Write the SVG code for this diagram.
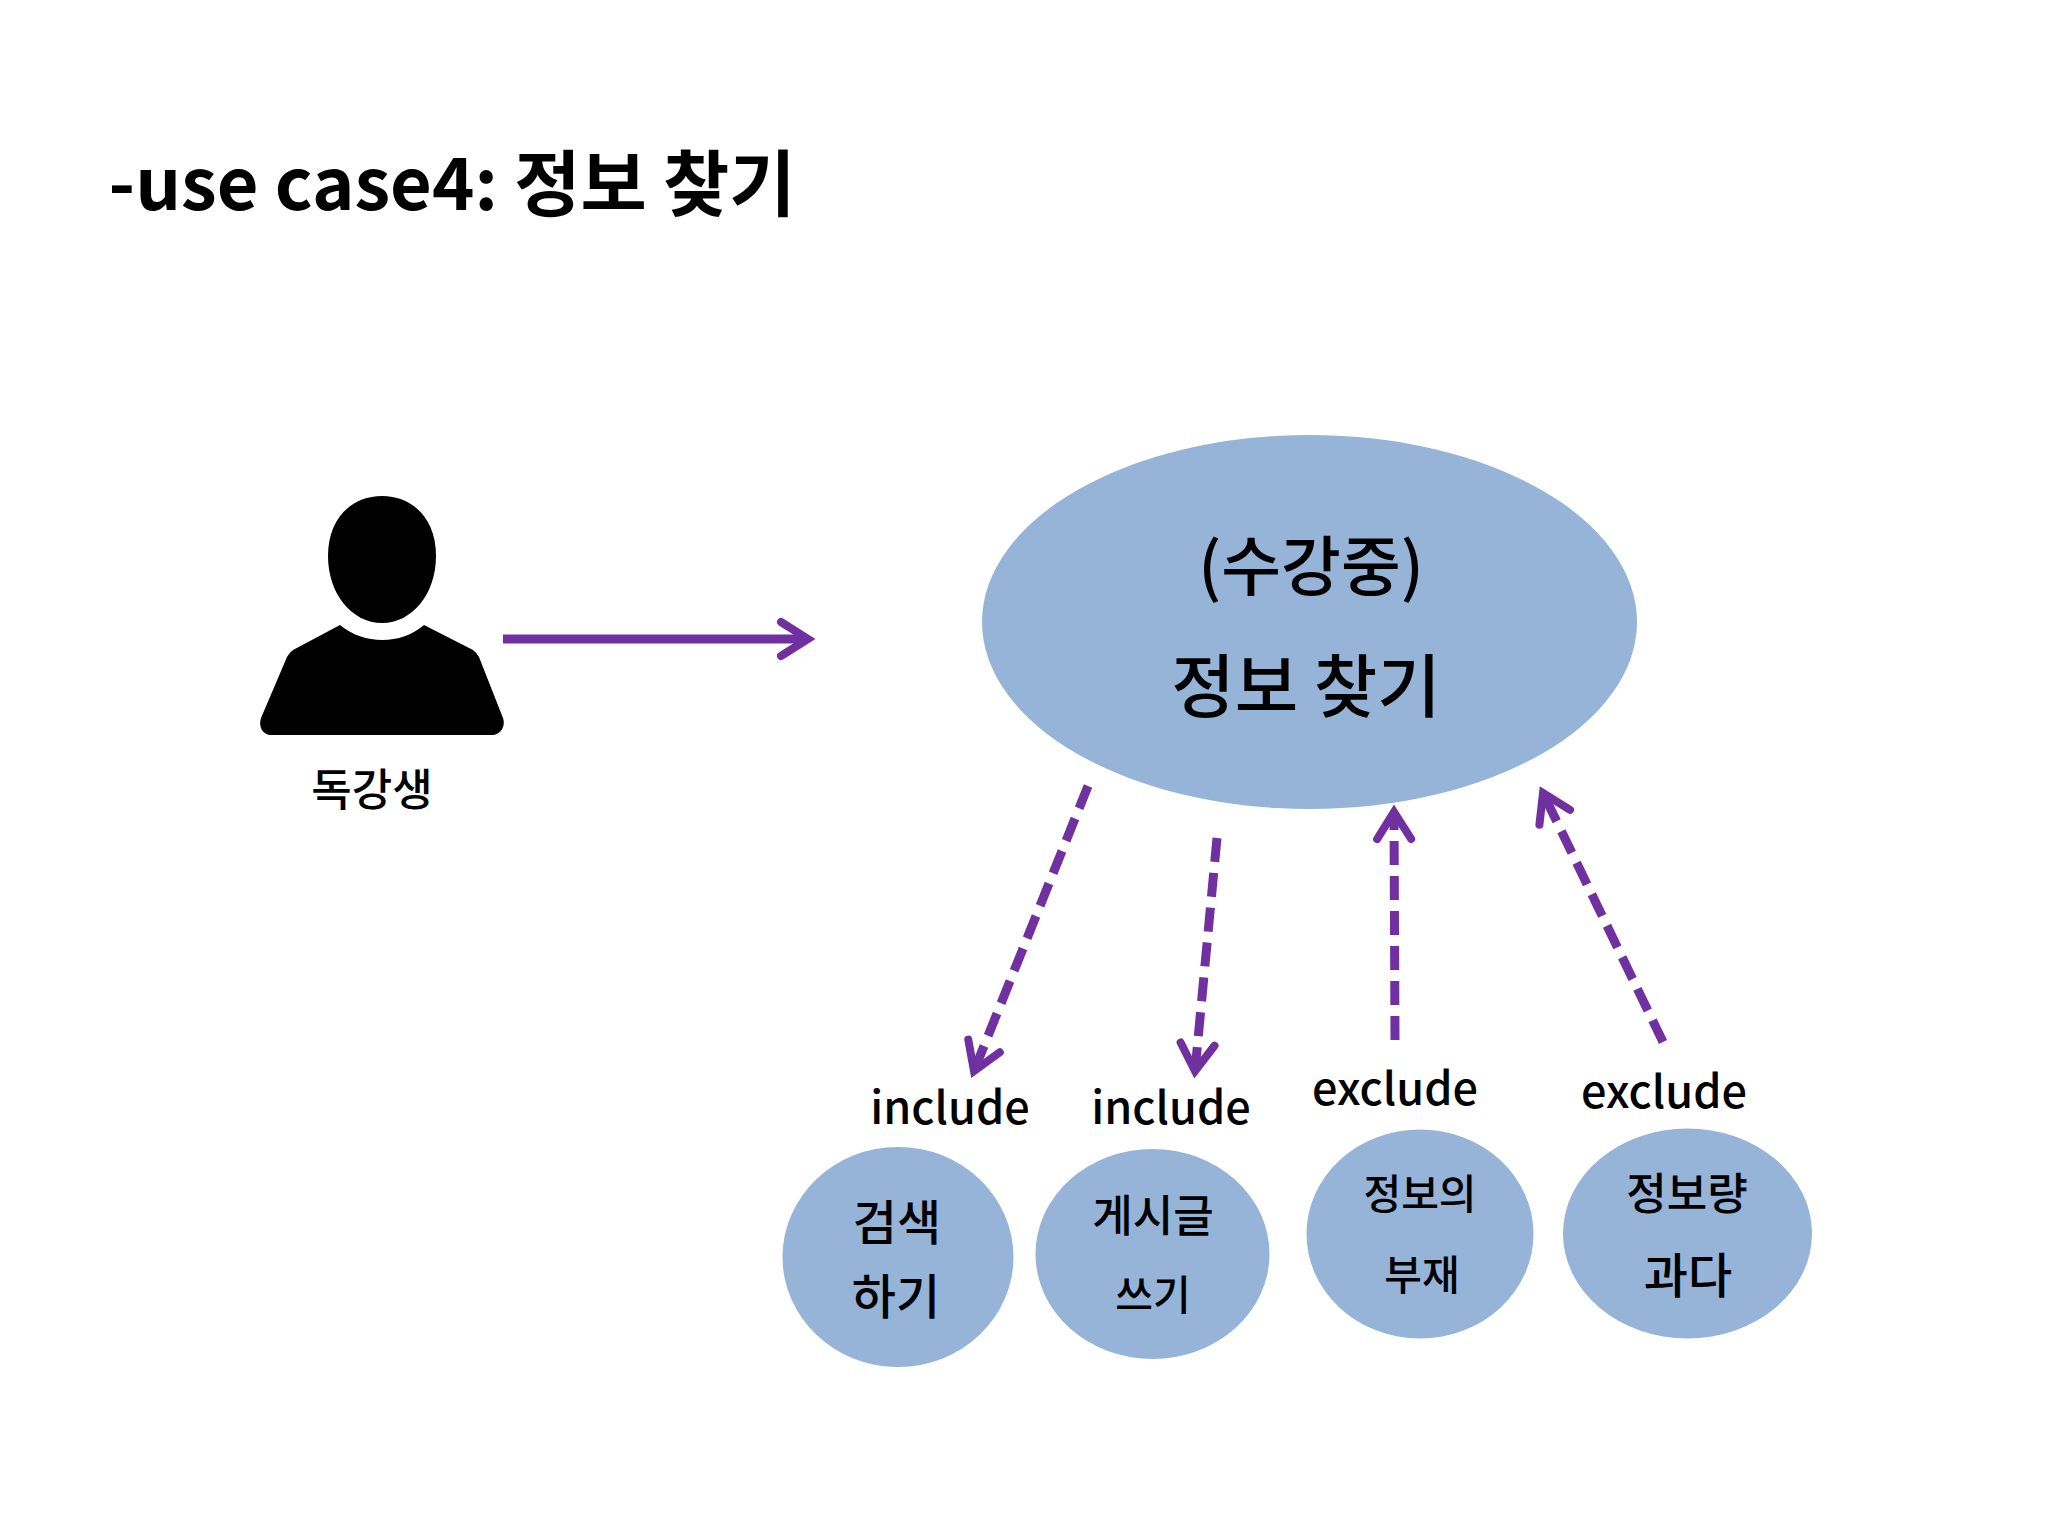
<svg xmlns="http://www.w3.org/2000/svg" width="2048" height="1536" viewBox="0 0 2048 1536">
<style>
text{font-family:"Noto Sans CJK KR","Noto Sans",sans-serif;fill:#000;text-anchor:middle;dominant-baseline:central;font-weight:500}
.uc{fill:#96B3D8}
.s{font-size:41px}
.n{font-size:44px}
.w{font-size:48px}
.l{font-size:45px}
.m{font-size:65px}
.c{fill:none;stroke:#7030A0;stroke-width:9}
.d{stroke-dasharray:24 11}
.h{fill:none;stroke:#7030A0;stroke-width:8;stroke-linecap:round;stroke-linejoin:miter}
</style>
<defs>
<marker id="open" viewBox="-32 -24 42 48" refX="0" refY="0" markerWidth="42" markerHeight="48" orient="auto" markerUnits="userSpaceOnUse" overflow="visible">
<path class="h" d="M-27 -17L0 0L-27 17"/>
</marker>
</defs>
<rect width="2048" height="1536" fill="#fff"/>
<text x="452" y="178" font-size="72" style="font-weight:700">-use case4: 정보 찾기</text>
<g id="connectors">
<line class="c" x1="503" y1="639" x2="808" y2="639" marker-end="url(#open)"/>
<line class="c d" x1="1088" y1="786" x2="974" y2="1071" marker-end="url(#open)"/>
<line class="c d" x1="1217" y1="838" x2="1195" y2="1071" marker-end="url(#open)"/>
<line class="c d" x1="1395" y1="1040" x2="1394" y2="812" marker-end="url(#open)"/>
<line class="c d" x1="1663" y1="1042" x2="1543" y2="793" marker-end="url(#open)"/>
</g>
<g id="actor">
<path d="M382 496C352 496 328 518 328 556C328 594 352 623 382 623C412 623 436 594 436 556C436 518 412 496 382 496Z"/>
<path d="M340 625C364 645 401 645 424 625L473 650Q477 653 479 657L503 718C506 727 500 735 492 735H271C263 735 258 727 261 718L287 657Q289 653 293 650Z"/>
<text class="n" x="372" y="787">독강생</text>
</g>
<g id="uc-main">
<ellipse class="uc" cx="1309.500" cy="622" rx="327.500" ry="187"/>
<text class="m" x="1311" y="562">(수강중)</text>
<text x="1306" y="682" font-size="69">정보 찾기</text>
</g>
<g id="uc-search">
<ellipse class="uc" cx="898" cy="1257" rx="115.500" ry="110"/>
<text class="w" x="897" y="1219">검색</text>
<text class="w" x="896" y="1293">하기</text>
</g>
<g id="uc-post">
<ellipse class="uc" cx="1152.500" cy="1254" rx="117" ry="105"/>
<text class="n" x="1153" y="1213">게시글</text>
<text class="s" x="1153" y="1292">쓰기</text>
</g>
<g id="uc-absent">
<ellipse class="uc" cx="1420" cy="1234" rx="113.500" ry="104.500"/>
<text class="s" x="1420" y="1191">정보의</text>
<text class="s" x="1422" y="1272">부재</text>
</g>
<g id="uc-excess">
<ellipse class="uc" cx="1687.500" cy="1233.500" rx="124.500" ry="105"/>
<text class="n" x="1687" y="1191">정보량</text>
<text class="w" x="1688" y="1272">과다</text>
</g>
<g id="labels">
<text class="l" x="950" y="1104">include</text>
<text class="l" x="1171" y="1104">include</text>
<text class="l" x="1395" y="1085">exclude</text>
<text class="l" x="1664" y="1088">exclude</text>
</g>
</svg>
